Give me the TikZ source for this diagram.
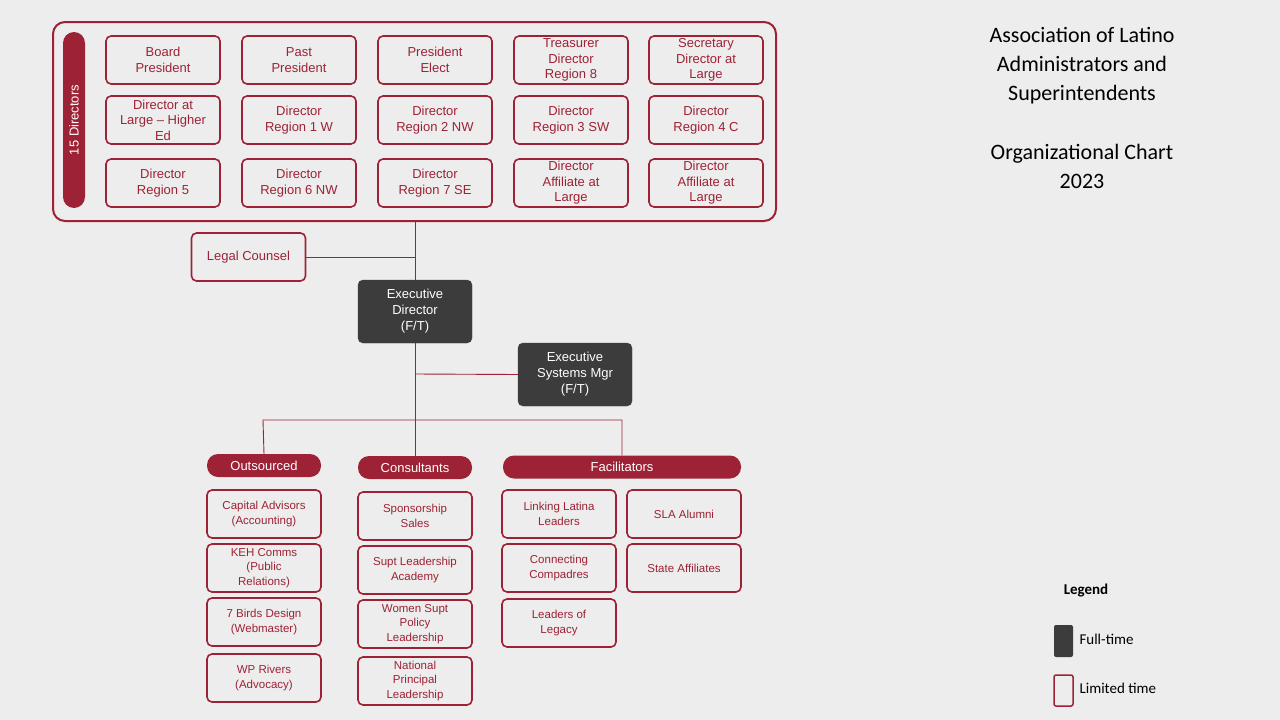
\documentclass[tikz,border=0pt]{standalone}
\usepackage{fontspec}
\setmainfont{Liberation Sans}
\newfontfamily\carfont{Carlito}
\definecolor{myred}{HTML}{9E2235}
\definecolor{mydark}{HTML}{3C3C3C}
\definecolor{bg}{HTML}{EDEDED}
\begin{document}
\begin{tikzpicture}[x=1pt,y=-1pt,
 lim/.style={draw=myred,line width=1.6pt,rounded corners=5pt,text=myred,align=center,font=\fontsize{13}{15.5}\selectfont,inner sep=0pt},
 sm/.style={lim,font=\fontsize{11.5}{14.5}\selectfont},
 ft/.style={fill=mydark,draw=mydark,rounded corners=5pt,text=white,align=center,font=\fontsize{13}{16}\selectfont,minimum width=114pt,minimum height=63pt},
 hdr/.style={fill=myred,rounded corners=11pt,text=white,font=\fontsize{13}{15}\selectfont,minimum height=23pt,inner sep=0pt},
 ln/.style={myred,line width=0.9pt}]
\fill[bg] (0,0) rectangle (1280,720);
\useasboundingbox (0,0) rectangle (1280,720);
\node[draw=myred,line width=2pt,rounded corners=12pt,minimum width=723pt,minimum height=199pt] (outer) at (414.5,121.5) {};
\node[fill=myred,rounded corners=11pt,minimum width=22pt,minimum height=176pt,inner sep=0pt] (bar) at (74,120) {};
\node[rotate=90,text=white,font=\fontsize{13}{15}\selectfont] (barl) at (74,120) {15 Directors};
\def\bx#1#2#3#4{\node[lim,minimum width=114pt,minimum height=48pt] (#1) at (#2,#3) {#4};}
\bx{a1}{163}{60}{Board\\President}
\bx{a2}{299}{60}{Past\\President}
\bx{a3}{435}{60}{President\\Elect}
\bx{a4}{571}{60}{Treasurer\\Director\\Region 8}
\bx{a5}{706}{60}{Secretary\\Director at\\Large}
\bx{b1}{163}{120}{Director at\\Large – Higher\\Ed}
\bx{b2}{299}{120}{Director\\Region 1 W}
\bx{b3}{435}{120}{Director\\Region 2 NW}
\bx{b4}{571}{120}{Director\\Region 3 SW}
\bx{b5}{706}{120}{Director\\Region 4 C}
\bx{c1}{163}{183}{Director\\Region 5}
\bx{c2}{299}{183}{Director\\Region 6 NW}
\bx{c3}{435}{183}{Director\\Region 7 SE}
\bx{c4}{571}{183}{Director\\Affiliate at\\Large}
\bx{c5}{706}{183}{Director\\Affiliate at\\Large}
\bx{legal}{248.5}{257}{Legal Counsel}
\node[ft] (ed) at (415,311.5) {Executive\\Director\\(F/T)};
\node[ft] (esm) at (575,374.5) {Executive\\Systems Mgr\\(F/T)};
\coordinate (top) at (415,221);
\coordinate (j1) at (415,257);
\coordinate (j2) at (415,374);
\coordinate (j3) at (415,420);
\coordinate (jl) at (263,420);
\coordinate (jr) at (622,420);
\draw[ln] (outer.south -| top) -- (ed.north);
\draw[ln] (legal.east) -- (j1);
\draw[ln] (ed.south) -- (j3);
\draw[ln] (j2) -- (esm.west);
\node[hdr,minimum width=114pt] (out) at (264,465.5) {Outsourced};
\node[hdr,minimum width=114pt] (con) at (415,467.5) {Consultants};
\node[hdr,minimum width=238pt] (fac) at (622,467) {Facilitators};
\draw[ln] (out.north) -- (jl) -- (jr) -- (fac.north);
\draw[ln] (j3) -- (con.north);
\def\sb#1#2#3#4{\node[sm,minimum width=114pt,minimum height=48pt] (#1) at (#2,#3) {#4};}
\sb{o1}{264}{514}{Capital Advisors\\(Accounting)}
\sb{o2}{264}{568}{KEH Comms\\(Public\\Relations)}
\sb{o3}{264}{622}{7 Birds Design\\(Webmaster)}
\sb{o4}{264}{678}{WP Rivers\\(Advocacy)}
\sb{k1}{415}{516}{Sponsorship\\Sales}
\sb{k2}{415}{570}{Supt Leadership\\Academy}
\sb{k3}{415}{624}{Women Supt\\Policy\\Leadership}
\sb{k4}{415}{681}{National\\Principal\\Leadership}
\sb{f1}{559}{514}{Linking Latina\\Leaders}
\sb{f2}{559}{568}{Connecting\\Compadres}
\sb{f3}{559}{623}{Leaders of\\Legacy}
\sb{f4}{684}{514}{SLA Alumni}
\sb{f5}{684}{568}{State Affiliates}
\node[align=center,font=\carfont\fontsize{22}{29}\selectfont] (title) at (1082,66) {Association of Latino\\Administrators and\\Superintendents};
\node[align=center,font=\carfont\fontsize{22}{29}\selectfont] (title2) at (1082,166.5) {Organizational Chart\\2023};
\node[font=\carfont\bfseries\fontsize{15}{18}\selectfont] (leg) at (1086,591) {Legend};
\node[fill=mydark,rounded corners=2pt,minimum width=19pt,minimum height=32pt,inner sep=0pt] (lf) at (1063.5,641) {};
\node[draw=myred,line width=1.5pt,rounded corners=2pt,minimum width=19pt,minimum height=31pt,inner sep=0pt] (ll) at (1063.5,690.5) {};
\node[anchor=west,font=\carfont\fontsize{15}{18}\selectfont] (lft) at (1076,639) {Full-time};
\node[anchor=west,font=\carfont\fontsize{15}{18}\selectfont] (llt) at (1076,688) {Limited time};
\end{tikzpicture}
\end{document}
